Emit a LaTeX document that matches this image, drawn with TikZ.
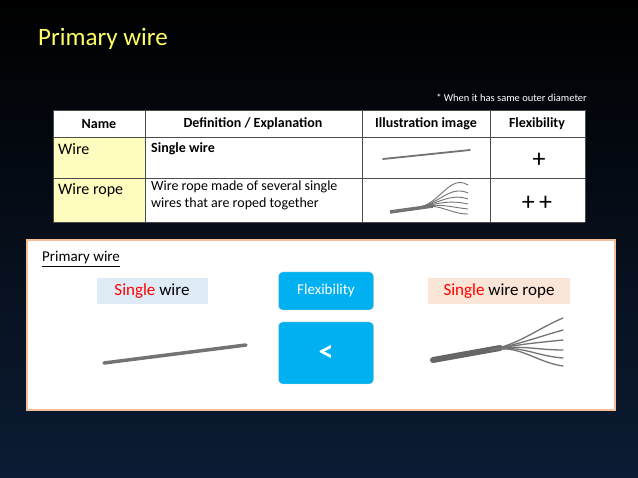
\documentclass[tikz,border=0pt]{standalone}
\usepackage{fontspec}
\setmainfont{Carlito}
\begin{document}
\begin{tikzpicture}[x=1pt,y=-1pt,
 cell/.style={draw=black!70,line width=0.8pt},
 strand/.style={line width=1.3pt,draw=black!55,line cap=round},
 lbl/.style={inner sep=0pt,anchor=base west}]
\useasboundingbox (0,0) rectangle (638,478);
\shade[top color=black,bottom color={rgb,255:red,12;green,28;blue,52}] (0,0) rectangle (638,478);
\node[lbl,text={rgb,255:red,255;green,255;blue,102},font=\fontsize{25}{27}\selectfont] (title) at (38,46) {Primary wire};
\node[inner sep=0pt,anchor=base east,text=white,font=\fontsize{10.5}{11}\selectfont] (note) at (587,102) {* When it has same outer diameter};
% table
\fill[white] (53,110) rectangle (585,222);
\fill[yellow!25] (53,137) rectangle (145,222);
\foreach \y in {110,137,178,222} \draw[cell] (53,\y) -- (585,\y);
\foreach \x in {53,145,362,490,585} \draw[cell] (\x,110) -- (\x,222);
\begin{scope}[font=\fontsize{14}{16}\selectfont\bfseries]
\node (h1) at (99,124) {Name};
\node (h2) at (253,124) {Definition / Explanation};
\node (h3) at (426,124) {Illustration image};
\node (h4) at (537,124) {Flexibility};
\node[lbl] (d1) at (151,153) {Single wire};
\end{scope}
\begin{scope}[font=\fontsize{16}{18}\selectfont]
\node[lbl] (n1) at (58,155) {Wire};
\node[lbl] (n2) at (58,195) {Wire rope};
\end{scope}
\node[anchor=north west,inner sep=0pt,align=left,font=\fontsize{14}{17}\selectfont] (d2) at (151,181) {Wire rope made of several single\\wires that are roped together};
\node[font=\fontsize{26}{26}\selectfont] (f1) at (539,160) {+};
\node[font=\fontsize{26}{26}\selectfont] (f2) at (537,203) {+\,+};
\draw[line width=1.8pt,draw=black!55,line cap=round] (383,159) -- (470,150);
\draw[line width=3.5pt,draw=black!55] (390,212) -- (433,206);
\foreach \a/\b in {185/-3,193/0,199/2,204/4,209/6,214/8} \draw[draw=black!55,line width=0.9pt] (420,207) .. controls (440,203) and (450,\b+\a-8) .. (468,\a);
% panel
\draw[fill=white,draw={rgb,255:red,246;green,190;blue,150},line width=1.5pt] (27,240) rectangle (615,410);
\node[lbl,font=\fontsize{15}{17}\selectfont] (pw) at (42,262) {\underline{Primary wire}};
\node[fill={rgb,255:red,222;green,235;blue,247},minimum width=111pt,minimum height=26pt,font=\fontsize{17}{19}\selectfont] (sw) at (152,291) {\textcolor{red}{Single} wire};
\node[fill={rgb,255:red,251;green,229;blue,214},minimum width=142pt,minimum height=26pt,font=\fontsize{17}{19}\selectfont] (sr) at (499,291) {\textcolor{red}{Single} wire rope};
\node[fill={rgb,255:red,0;green,176;blue,240},draw=black!15,rounded corners=4pt,minimum width=95pt,minimum height=38pt,text=white,font=\fontsize{15}{17}\selectfont] (fx) at (326,291) {Flexibility};
\node[fill={rgb,255:red,0;green,176;blue,240},draw=black!15,rounded corners=4pt,minimum width=95pt,minimum height=62pt,text=white,font=\fontsize{30}{32}\selectfont\bfseries] (lt) at (326,353) {<};
\draw[line width=3.5pt,draw=black!55,line cap=round] (104,363) -- (246,345);
\draw[line width=6pt,draw=black!60,line cap=round] (433,360) -- (500,348);
\foreach \e/\c in {318/330,330/338,340/343,350/350,358/356,366/362} \draw[strand] (490,350) .. controls (520,344) and (535,\c) .. (563,\e);
\end{tikzpicture}
\end{document}
